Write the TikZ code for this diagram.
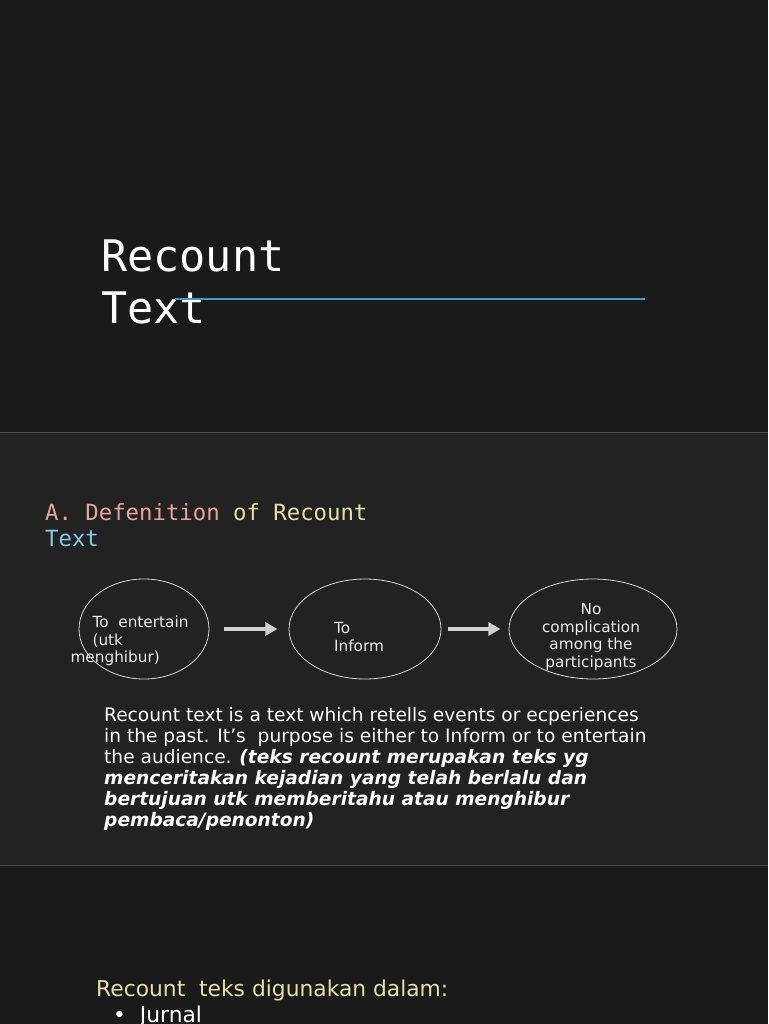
\documentclass[tikz,border=0pt]{standalone}
\usepackage{fontspec}
\setmainfont{DejaVu Sans}
\newfontfamily\monof{DejaVu Sans Mono}
\usetikzlibrary{shapes.geometric,arrows.meta}
\definecolor{board}{HTML}{1A1A1A}
\definecolor{boardb}{HTML}{222222}
\definecolor{pinkt}{HTML}{E8A49C}
\definecolor{yelt}{HTML}{E6DFA6}
\definecolor{bluet}{HTML}{86C8E6}
\definecolor{linec}{HTML}{3E9CC8}
\tikzset{
 oval/.style={draw=white!85!black, ellipse, line width=0.8pt, minimum width=#1, minimum height=100pt, inner sep=0pt},
 ovtext/.style={text=white!92!black, font=\fontsize{15.3}{17.5}\selectfont, align=center},
 flow/.style={-{Triangle[length=12pt,width=13pt]}, line width=4pt, draw=white!82!black},
}
\begin{document}
\begin{tikzpicture}[x=1pt,y=-1pt]
\useasboundingbox (0,0) rectangle (768,1024);
\fill[board] (0,0) rectangle (768,432);
\fill[boardb] (0,433) rectangle (768,865);
\fill[board] (0,866) rectangle (768,1024);
\draw[black!70,line width=1pt] (0,432.5) -- (768,432.5) (0,865.5) -- (768,865.5);
% slide 1
\node[anchor=north west, inner sep=0, align=left, text=white, font=\monof\fontsize{43.5}{52}\selectfont] (title) at (101,240) {Recount\\Text};
\coordinate (l1) at (175,299); \coordinate (l2) at (645,299);
\draw[linec, line width=2pt] (l1) -- (l2);
% slide 2
\node[anchor=north west, inner sep=0, align=left, font=\monof\fontsize{22.3}{26}\selectfont] (head) at (45,503)
 {\textcolor{pinkt}{A. Defenition} \textcolor{yelt}{of Recount}\\\textcolor{bluet}{Text}};
\node[oval=130pt] (e1) at (144,629) {};
\node[oval=152pt] (e2) at (365,629) {};
\node[oval=168pt] (e3) at (593,629) {};
\node[ovtext, align=left, anchor=west] (t1) at (67,641) {\hspace*{22pt}To\ \ entertain\\\hspace*{22pt}(utk\\menghibur)};
\node[ovtext, align=left] (t2) at (359,637) {To\\Inform};
\node[ovtext] (t3) at (591,637) {No\\complication\\among the\\participants};
\draw[flow] (e1.east) ++(15,0) coordinate (a1) -- ++(53,0) coordinate (a1e);
\draw[flow] (e2.east) ++(7,0) coordinate (a2) -- ++(52,0) coordinate (a2e);
\node[anchor=north west, inner sep=0, align=left, text=white, font=\fontsize{18.6}{21}\selectfont] (para) at (104,707)
 {Recount text is a text which retells events or ecperiences\\in the past. It’s\ \ purpose is either to Inform or to entertain\\the audience. \textbf{\itshape(teks recount merupakan teks yg}\\\textbf{\itshape menceritakan kejadian yang telah berlalu dan}\\\textbf{\itshape bertujuan utk memberitahu atau menghibur}\\\textbf{\itshape pembaca/penonton)}};
% slide 3
\node[anchor=north west, inner sep=0, align=left, text=yelt, font=\fontsize{21.8}{26}\selectfont] (h3) at (96,980) {Recount\ \ teks digunakan dalam:};
\node[anchor=north west, inner sep=0, align=left, text=white, font=\fontsize{21.8}{26}\selectfont] (b1) at (113,1006) {•\ \ Jurnal};
\end{tikzpicture}
\end{document}
